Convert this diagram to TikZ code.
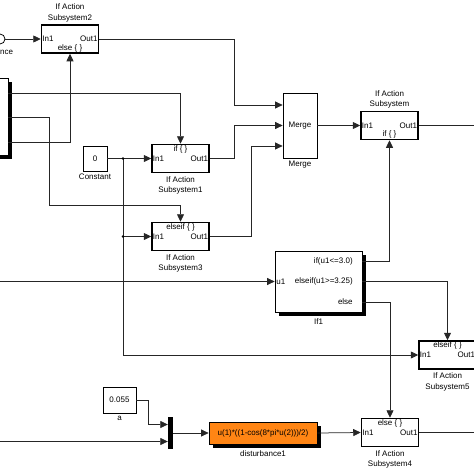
\documentclass[tikz,border=0pt]{standalone}
\usepackage{fontspec}
\setmainfont{Liberation Sans}
\usetikzlibrary{positioning,arrows.meta,shadows}
\definecolor{fcnorange}{RGB}{255,133,20}
\begin{document}
\begin{tikzpicture}[x=1pt,y=-1pt,
  every node/.style={font=\fontsize{8}{10.5}\selectfont},
  wire/.style={line width=0.75pt, black!85},
  arr/.style={wire, -{Triangle[length=7.5pt,width=7pt]}},
  sub/.style={draw, line width=1.5pt, minimum width=57, minimum height=28, inner sep=0},
  blk/.style={draw, line width=0.75pt, inner sep=0},
  shad/.style={drop shadow={shadow xshift=4pt, shadow yshift=-4pt, fill=black, opacity=1}},
  lbl/.style={inner sep=1.5pt},
  ttl/.style={align=center, inner sep=1pt}]
\useasboundingbox (0,0) rectangle (474,474);
% inputs on the left
\node[circle, draw, line width=0.75pt, minimum size=10, inner sep=0] (ref) at (0,39) {};
\node[anchor=west, inner sep=0] (reflbl) at (0,52) {nce};
\node[blk, shad, fill=white, minimum width=28, minimum height=77] (bus) at (-6,116.5) {};
\coordinate (bo1) at (8,93);
\coordinate (bo2) at (8,117);
\coordinate (bo3) at (8,142);
\coordinate (in1) at (0,281.5);
\coordinate (in2) at (0,441.5);
\coordinate (o1) at (474,125.5);
\coordinate (o2) at (474,432.5);
% if action subsystems
\node[sub] (ss2) at (70,39) {};
\node[ttl, above=1pt of ss2] {If Action\\Subsystem2};
\node[lbl, anchor=west] at (ss2.west) {In1};
\node[lbl, anchor=east] at (ss2.east) {Out1};
\node[lbl, anchor=south] at (ss2.south) {else \{ \}};
\node[sub] (ss1) at (180.5,158.5) {};
\node[ttl, below=2pt of ss1] {If Action\\Subsystem1};
\node[lbl, anchor=west] at (ss1.west) {In1};
\node[lbl, anchor=east] at (ss1.east) {Out1};
\node[lbl, anchor=north] at (ss1.north) {if \{ \}};
\node[sub] (ss3) at (180.5,236.5) {};
\node[ttl, below=2pt of ss3] {If Action\\Subsystem3};
\node[lbl, anchor=west] at (ss3.west) {In1};
\node[lbl, anchor=east] at (ss3.east) {Out1};
\node[lbl, anchor=north] at (ss3.north) {elseif \{ \}};
\node[sub] (ss) at (389.5,125.5) {};
\node[ttl, above=1pt of ss] {If Action\\Subsystem};
\node[lbl, anchor=west] at (ss.west) {In1};
\node[lbl, anchor=east] at (ss.east) {Out1};
\node[lbl, anchor=south] at (ss.south) {if \{ \}};
\node[sub] (ss5) at (447.5,355) {};
\node[ttl, below=2pt of ss5] {If Action\\Subsystem5};
\node[lbl, anchor=west] at (ss5.west) {In1};
\node[lbl, anchor=east] at (ss5.east) {Out1};
\node[lbl, anchor=north] at (ss5.north) {elseif \{ \}};
\node[sub] (ss4) at (390,432.5) {};
\node[ttl, below=2pt of ss4] {If Action\\Subsystem4};
\node[lbl, anchor=west] at (ss4.west) {In1};
\node[lbl, anchor=east] at (ss4.east) {Out1};
\node[lbl, anchor=north] at (ss4.north) {else \{ \}};
% other blocks
\node[blk, minimum width=24, minimum height=25] (c0) at (95,158.5) {0};
\node[lbl, below=1pt of c0] {Constant};
\node[blk, minimum width=34, minimum height=65] (merge) at (300,125.5) {Merge};
\node[lbl, below=1pt of merge] {Merge};
\node[blk, shad, fill=white, minimum width=87, minimum height=61] (if1) at (318.5,281.5) {};
\node[lbl, anchor=west] at (if1.west) {u1};
\node[lbl, anchor=east, xshift=-8] at ([yshift=20.5]if1.east) {if(u1<=3.0)};
\node[lbl, anchor=east, xshift=-8] at (if1.east) {elseif(u1>=3.25)};
\node[lbl, anchor=east, xshift=-8] at ([yshift=-20.5]if1.east) {else};
\node[lbl, below=5pt of if1] {If1};
\node[blk, minimum width=33, minimum height=26] (ca) at (119.5,400) {0.055};
\node[lbl, below=1pt of ca] {a};
\node[fill=black, minimum width=5, minimum height=32, inner sep=0] (mux) at (170.5,433) {};
\node[blk, shad, fill=fcnorange, minimum width=108, minimum height=22] (fcn) at (263,433) {u(1)*((1-cos(8*pi*u(2)))/2)};
\node[lbl, below=5pt of fcn] {disturbance1};
% connectors
\coordinate (j1) at (123,158.5);
\coordinate (j2) at (123,236.5);
\draw[arr] (ref) -- (ss2.west);
\draw[arr] (ss2.east) -- ++(135,0) |- ([yshift=20.5]merge.west);
\draw[arr] (bo1) -| (ss1.north);
\draw[arr] (bo2) -| (49,205) -| (ss3.north);
\draw[arr] (bo3) -| (ss2.south);
\draw[arr] (c0.east) -- (ss1.west);
\draw[arr] (j1) |- (ss5.west);
\draw[arr] (j2) -- (ss3.west);
\fill (j1) circle[radius=1.3];
\fill (j2) circle[radius=1.3];
\draw[arr] (ss1.east) -- ++(25,0) |- (merge.west);
\draw[arr] (ss3.east) -- ++(42,0) |- ([yshift=-20.5]merge.west);
\draw[arr] (merge.east) -- (ss.west);
\draw[wire] (ss.east) -- (o1);
\draw[arr] (in1) -- (if1.west);
\draw[arr] ([yshift=20.5]if1.east) -| (ss.south);
\draw[arr] (if1.east) -| (ss5.north);
\draw[arr] ([yshift=-20.5]if1.east) -| (ss4.north);
\draw[wire] (ss4.east) -- (o2);
\draw[arr] (ca.east) -- ++(12,0) |- ([yshift=8.5]mux.west);
\draw[arr] (in2) -- ([yshift=-8.5]mux.west);
\draw[arr] (mux.east) -- (fcn.west);
\draw[arr] (fcn.east) -- (ss4.west);
\end{tikzpicture}
\end{document}
